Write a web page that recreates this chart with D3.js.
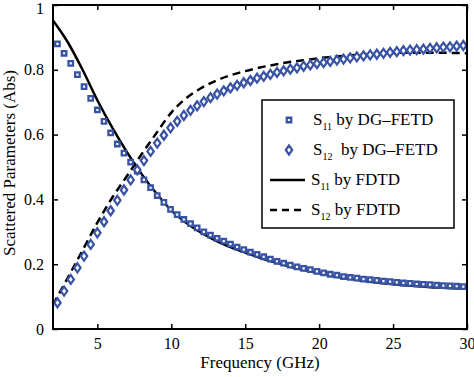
<!DOCTYPE html>
<html>
<head>
<meta charset="utf-8">
<script src="https://cdn.jsdelivr.net/npm/d3@7"></script>
<style>
  body { margin: 0; background: #fff; }
  svg text { font-family: "Liberation Serif", "Times New Roman", serif; fill: #000; white-space: pre; }
</style>
</head>
<body>
<div id="chart"></div>
<script>
// Frecuencias de los marcadores DG-FETD (GHz)
const freqMarkers = [2.3, 2.75, 3.2, 3.65, 4.1, 4.55, 5.0, 5.45, 5.9, 6.35, 6.8, 7.25, 7.7, 8.15, 8.6,
  9.05, 9.5, 9.95, 10.4, 10.85, 11.3, 11.75, 12.2, 12.65, 13.1, 13.55, 14.0, 14.45, 14.9, 15.35,
  15.8, 16.25, 16.7, 17.15, 17.6, 18.05, 18.5, 18.95, 19.4, 19.85, 20.3, 20.75, 21.2, 21.65, 22.1,
  22.55, 23.0, 23.45, 23.9, 24.35, 24.8, 25.25, 25.7, 26.15, 26.6, 27.05, 27.5, 27.95, 28.4, 28.85,
  29.3, 29.75];

const s11Fetd = [0.880, 0.851, 0.820, 0.785, 0.748, 0.712, 0.676, 0.641, 0.605, 0.571, 0.543, 0.515, 0.487, 0.460, 0.436,
  0.412, 0.391, 0.369, 0.353, 0.338, 0.325, 0.312, 0.300, 0.290, 0.280, 0.271, 0.262, 0.253, 0.245, 0.237,
  0.230, 0.223, 0.216, 0.209, 0.203, 0.197, 0.192, 0.187, 0.183, 0.178, 0.173, 0.169, 0.166, 0.162, 0.159,
  0.157, 0.154, 0.152, 0.150, 0.148, 0.146, 0.144, 0.142, 0.141, 0.139, 0.138, 0.137, 0.135, 0.134, 0.133,
  0.132, 0.131];

const s12Fetd = [0.081, 0.117, 0.153, 0.189, 0.225, 0.261, 0.297, 0.331, 0.365, 0.397, 0.429, 0.460, 0.491, 0.520, 0.548,
  0.574, 0.598, 0.621, 0.641, 0.659, 0.675, 0.689, 0.702, 0.714, 0.725, 0.735, 0.744, 0.752, 0.760, 0.767,
  0.774, 0.780, 0.786, 0.792, 0.797, 0.802, 0.806, 0.811, 0.815, 0.819, 0.822, 0.826, 0.830, 0.833, 0.837,
  0.840, 0.843, 0.846, 0.848, 0.851, 0.854, 0.856, 0.859, 0.861, 0.862, 0.864, 0.866, 0.868, 0.870, 0.871,
  0.873, 0.875];

// Frecuencias de las curvas FDTD (GHz)
const freqLines = [2, 3, 4, 5, 6, 7, 8, 9, 10, 11, 12, 13, 14, 15, 16, 17, 18, 19, 20, 21, 22, 23, 24, 25, 26, 27, 28, 29, 30];

const s11Fdtd = [0.952, 0.885, 0.800, 0.706, 0.622, 0.546, 0.478, 0.418, 0.366, 0.328, 0.298, 0.273, 0.253, 0.236, 0.220,
  0.206, 0.193, 0.182, 0.172, 0.163, 0.156, 0.149, 0.143, 0.138, 0.134, 0.131, 0.128, 0.126, 0.124];

const s12Fdtd = [0.075, 0.158, 0.243, 0.328, 0.405, 0.472, 0.540, 0.605, 0.668, 0.712, 0.743, 0.766, 0.783, 0.796, 0.807,
  0.816, 0.824, 0.830, 0.836, 0.840, 0.844, 0.847, 0.850, 0.852, 0.853, 0.853, 0.853, 0.852, 0.851];

const xTicks = [5, 10, 15, 20, 25, 30];
const yTicks = [0, 0.2, 0.4, 0.6, 0.8, 1];

const width = 474;
const height = 377;
const margin = { top: 5, right: 7, bottom: 48, left: 53 };
const blue = '#3953a4';

const svg = d3.select('#chart')
  .append('svg')
  .attr('width', width)
  .attr('height', height);

const x = d3.scaleLinear()
  .domain([2, 30])
  .range([margin.left, width - margin.right]);

const y = d3.scaleLinear()
  .domain([0, 1])
  .range([height - margin.bottom, margin.top]);

// Ejes (ticks hacia dentro)
const fmtY = d => (d === 0 || d === 1) ? String(d) : d3.format('.1f')(d);

svg.append('g')
  .attr('transform', `translate(0,${y(0)})`)
  .call(d3.axisBottom(x).tickValues(xTicks).tickSize(-5).tickPadding(9))
  .call(g => g.select('.domain').remove())
  .call(g => g.selectAll('text').attr('font-size', 16).attr('font-family', 'Liberation Serif'));

svg.append('g')
  .attr('transform', `translate(${x(2)},0)`)
  .call(d3.axisLeft(y).tickValues(yTicks).tickFormat(fmtY).tickSize(-5).tickPadding(9))
  .call(g => g.select('.domain').remove())
  .call(g => g.selectAll('text').attr('font-size', 16).attr('font-family', 'Liberation Serif'))
  .call(g => g.selectAll('.tick').filter(d => d === 1).select('text').attr('dy', '0.55em'));

svg.append('g')
  .attr('transform', `translate(0,${y(1)})`)
  .call(d3.axisTop(x).tickValues(xTicks).tickSize(-5).tickFormat(''))
  .call(g => g.select('.domain').remove());

svg.append('g')
  .attr('transform', `translate(${x(30)},0)`)
  .call(d3.axisRight(y).tickValues(yTicks).tickSize(-5).tickFormat(''))
  .call(g => g.select('.domain').remove());

svg.selectAll('.tick line').attr('stroke', '#000').attr('stroke-width', 1.5);

// Curvas FDTD
const line = d3.line()
  .x(d => x(d[0]))
  .y(d => y(d[1]))
  .curve(d3.curveMonotoneX);

svg.append('path')
  .datum(d3.zip(freqLines, s11Fdtd))
  .attr('d', line)
  .attr('fill', 'none')
  .attr('stroke', '#000')
  .attr('stroke-width', 2.5);

svg.append('path')
  .datum(d3.zip(freqLines, s12Fdtd))
  .attr('d', line)
  .attr('fill', 'none')
  .attr('stroke', '#000')
  .attr('stroke-width', 2.5)
  .attr('stroke-dasharray', '8,5');

// Marcadores DG-FETD
const squareSym = d3.symbol().type(d3.symbolSquare).size(20);
const diamondPath = 'M0,-4.5L3.2,0L0,4.5L-3.2,0Z';

svg.append('g')
  .selectAll('path')
  .data(d3.zip(freqMarkers, s11Fetd))
  .join('path')
  .attr('transform', d => `translate(${x(d[0])},${y(d[1])})`)
  .attr('d', squareSym)
  .attr('fill', '#fff')
  .attr('stroke', blue)
  .attr('stroke-width', 2.3);

svg.append('g')
  .selectAll('path')
  .data(d3.zip(freqMarkers, s12Fetd))
  .join('path')
  .attr('transform', d => `translate(${x(d[0])},${y(d[1])})`)
  .attr('d', diamondPath)
  .attr('fill', '#fff')
  .attr('stroke', blue)
  .attr('stroke-width', 2.2);

// Marco
svg.append('rect')
  .attr('x', x(2))
  .attr('y', y(1))
  .attr('width', x(30) - x(2))
  .attr('height', y(0) - y(1))
  .attr('fill', 'none')
  .attr('stroke', '#000')
  .attr('stroke-width', 2);

// Leyenda
const legend = svg.append('g').attr('transform', 'translate(262,100)');

legend.append('rect')
  .attr('width', 192)
  .attr('height', 128)
  .attr('fill', '#fff')
  .attr('stroke', '#000')
  .attr('stroke-width', 1.5);

const entries = [
  { sub: '11', rest: ' by DG\u2013FETD', kind: 'square' },
  { sub: '12', rest: '  by DG\u2013FETD', kind: 'diamond' },
  { sub: '11', rest: ' by FDTD', kind: 'solid' },
  { sub: '12', rest: ' by FDTD', kind: 'dashed' }
];

entries.forEach((e, i) => {
  const cy = 20 + i * 30;
  const g = legend.append('g').attr('transform', `translate(0,${cy})`);
  if (e.kind === 'square') {
    g.append('path').attr('transform', 'translate(27,0)').attr('d', squareSym)
      .attr('fill', '#fff').attr('stroke', blue).attr('stroke-width', 2.3);
  } else if (e.kind === 'diamond') {
    g.append('path').attr('transform', 'translate(27,0)').attr('d', diamondPath)
      .attr('fill', '#fff').attr('stroke', blue).attr('stroke-width', 2.2);
  } else {
    g.append('line').attr('x1', 8).attr('x2', 43).attr('y1', 0).attr('y2', 0)
      .attr('stroke', '#000').attr('stroke-width', 2.5)
      .attr('stroke-dasharray', e.kind === 'dashed' ? '7,5' : null);
  }
  const t = g.append('text')
    .attr('x', e.kind === 'solid' || e.kind === 'dashed' ? 49 : 51)
    .attr('y', 5)
    .attr('font-size', 17);
  t.append('tspan').text('S');
  t.append('tspan').attr('font-size', 10).attr('dy', 5).text(e.sub);
  t.append('tspan').attr('dy', -5).text(e.rest);
});

// Títulos de ejes
svg.append('text')
  .attr('x', (x(2) + x(30)) / 2)
  .attr('y', 368)
  .attr('text-anchor', 'middle')
  .attr('font-size', 17)
  .text('Frequency (GHz)');

svg.append('text')
  .attr('transform', 'translate(15,163) rotate(-90)')
  .attr('text-anchor', 'middle')
  .attr('font-size', 17)
  .text('Scattered Parameters (Abs)');
</script>
</body>
</html>
